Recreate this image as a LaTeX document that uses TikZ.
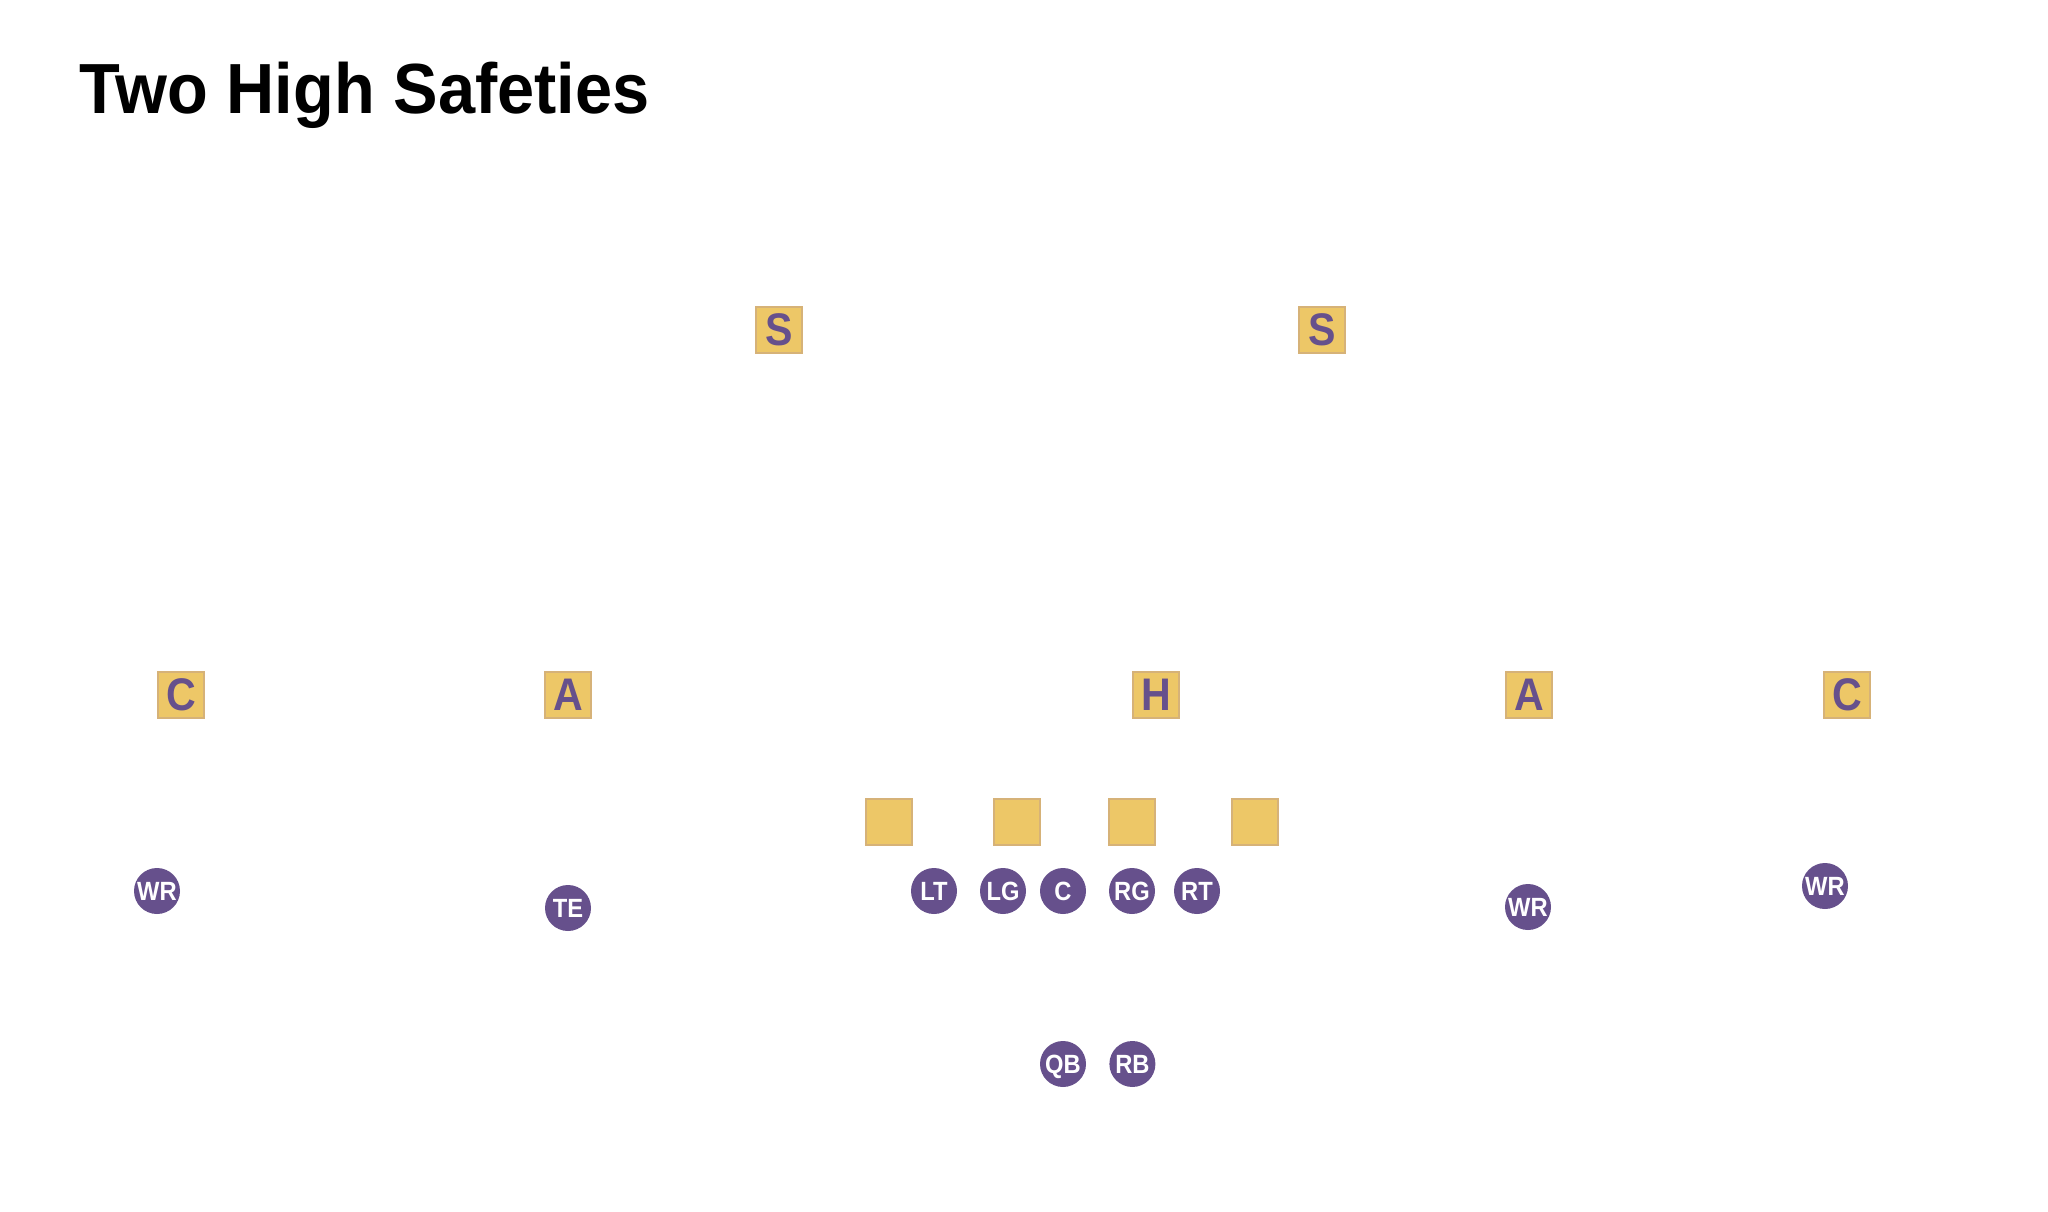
\documentclass[tikz,border=0pt]{standalone}
\usepackage{fontspec}
\setmainfont{Liberation Sans}
\newfontfamily\titlefont[FakeStretch=0.94]{Liberation Sans}
\newfontfamily\playerfont[FakeStretch=0.9]{Liberation Sans}
\usetikzlibrary{positioning}
\definecolor{defyellow}{RGB}{237,199,103}
\definecolor{defedge}{RGB}{214,178,120}
\definecolor{offpurple}{RGB}{102,80,140}
\tikzstyle{defender} = [rectangle, minimum size=0.46cm, inner sep=0pt, fill=defyellow, draw=defedge, line width=0.4pt, text=offpurple, font=\playerfont\bfseries\fontsize{13}{14}\selectfont]
\tikzstyle{player} = [circle, minimum size=0.46cm, inner sep=0pt, text depth=0pt, fill=offpurple, text=white, font=\playerfont\bfseries\fontsize{7.5}{8}\selectfont]

\begin{document}
\begin{tikzpicture}
				\fill[white] (0,0) rectangle (20.48,-12.12);
				\node (title) [anchor=base west, inner sep=0pt, font=\titlefont\bfseries\fontsize{20.2}{24}\selectfont] at (0.79,-1.13) {Two High Safeties};
				% defense
				\node (ssl) [defender] at (7.79,-3.30) {S};
				\node (ssr) [defender] at (13.22,-3.30) {S};
				\node (cbl) [defender] at (1.81,-6.95) {C};
				\node (apl) [defender] at (5.68,-6.95) {A};
				\node (hb) [defender] at (11.56,-6.95) {H};
				\node (apr) [defender] at (15.29,-6.95) {A};
				\node (cbr) [defender] at (18.47,-6.95) {C};
				\foreach \x [count=\i] in {8.89,10.17,11.32,12.55}
					\node (dl\i) [defender] at (\x,-8.22) {};
				% offense
				\foreach \nm/\x in {LT/9.34,LG/10.03,C/10.63,RG/11.32,RT/11.97}
					\node (\nm) [player] at (\x,-8.91) {\nm};
				\node (qb) [player] at (10.63,-10.64) {QB};
				\node (rb) [player, right=0.22cm of qb] {RB};
				\node (wrl) [player] at (1.57,-8.91) {WR};
				\node (te) [player] at (5.68,-9.08) {TE};
				\node (wrr) [player] at (15.28,-9.07) {WR};
				\node (wrf) [player] at (18.25,-8.86) {WR};
			\end{tikzpicture}
\end{document}
